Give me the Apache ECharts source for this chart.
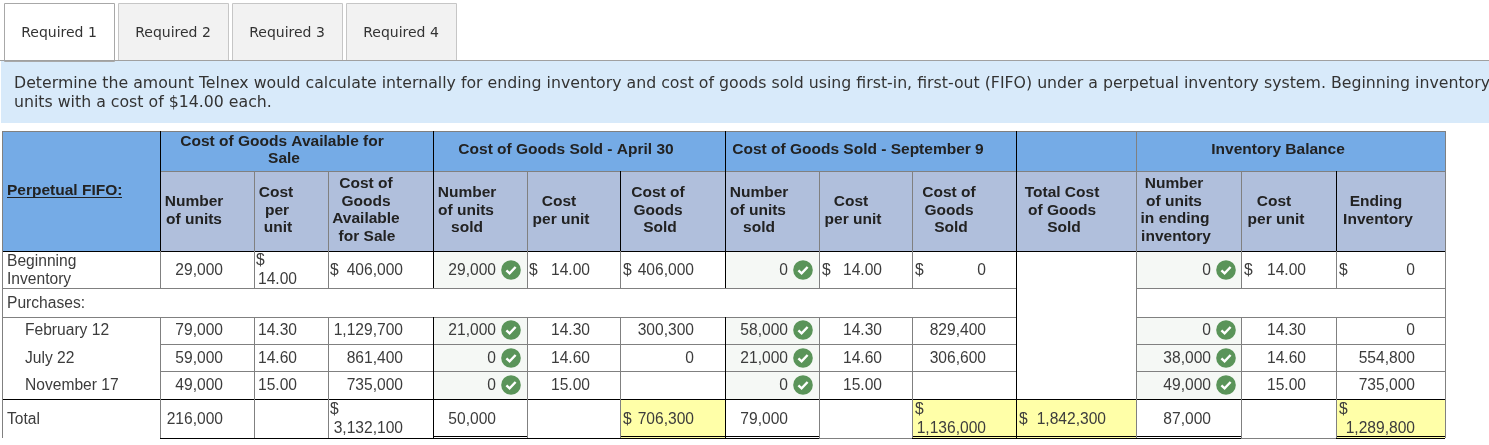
<!DOCTYPE html>
<html>
<head>
<meta charset="utf-8">
<script src="https://cdn.jsdelivr.net/npm/echarts@6/dist/echarts.min.js"></script>
<style>
html, body { margin: 0; padding: 0; background: #fff; }
#main { width: 1489px; height: 445px; }
</style>
</head>
<body>
<div id="main"></div>
<script>
// values
var tabNames = ['Required 1', 'Required 2', 'Required 3', 'Required 4'];
var introLines = [
    'Determine the amount Telnex would calculate internally for ending inventory and cost of goods sold using first-in, first-out (FIFO) under a perpetual inventory system. Beginning inventory',
    'units with a cost of $14.00 each.'
];
var rowLabels = ['Beginning', 'Inventory', 'Purchases:', 'February 12', 'July 22', 'November 17', 'Total'];

var unitsAvailable = [29000, 79000, 59000, 49000, 216000];
var costAvailablePerUnit = [14.00, 14.30, 14.60, 15.00, null];
var costAvailable = [406000, 1129700, 861400, 735000, 3132100];
var aprilUnits = [29000, 21000, 0, 0, 50000];
var aprilCostPerUnit = [14.00, 14.30, 14.60, 15.00, null];
var aprilCost = [406000, 300300, 0, null, 706300];
var septemberUnits = [0, 58000, 21000, 0, 79000];
var septemberCostPerUnit = [14.00, 14.30, 14.60, 15.00, null];
var septemberCost = [0, 829400, 306600, null, 1136000];
var totalCost = [null, null, null, null, 1842300];
var endingUnits = [0, 0, 38000, 49000, 87000];
var endingCostPerUnit = [14.00, 14.30, 14.60, 15.00, null];
var endingInventory = [0, 0, 554800, 735000, 1289800];

// table layout, in page pixels
var colX = [2, 160, 254, 328, 433, 527, 620, 725, 819, 912, 1016, 1136, 1241, 1336, 1445];
var rowY = [131, 171, 251, 288, 317, 344, 371, 399, 438];
var textY = [269, 329, 357, 384, 418];

var columns = [
    { values: unitsAvailable, right: 223 },
    { values: costAvailablePerUnit, right: 297, dollarX: 256, dec: 2, dollarRows: [0], wrap: [0] },
    { values: costAvailable, right: 403, dollarX: 330, dollarRows: [0, 4], wrap: [4] },
    { values: aprilUnits, right: 496, check: true },
    { values: aprilCostPerUnit, right: 590, dollarX: 529, dec: 2, dollarRows: [0] },
    { values: aprilCost, right: 694, dollarX: 623, dollarRows: [0, 4] },
    { values: septemberUnits, right: 788, check: true },
    { values: septemberCostPerUnit, right: 882, dollarX: 822, dec: 2, dollarRows: [0] },
    { values: septemberCost, right: 986, dollarX: 915, dollarRows: [0, 4], wrap: [4] },
    { values: totalCost, right: 1106, dollarX: 1019, dollarRows: [4] },
    { values: endingUnits, right: 1211, check: true },
    { values: endingCostPerUnit, right: 1306, dollarX: 1244, dec: 2, dollarRows: [0] },
    { values: endingInventory, right: 1415, dollarX: 1339, dollarRows: [0, 4], wrap: [4] }
];

var BLUE = '#75abe6', SUB = '#b0bfdc', YELLOW = '#ffffa8', ENTRY = '#f5f8f5';
var GRAY = '#808080', BLACK = '#000000';
var BODY_FONT = '15.6px "Liberation Sans"';
var HEAD_FONT = 'bold 15.5px "Liberation Sans"';
var TAB_FONT = '14px "DejaVu Sans"';
var INFO_FONT = '15.75px "DejaVu Sans"';

var rects = [], lines = [], texts = [], checks = [];

function addRect(x0, y0, x1, y1, fill, stroke) {
    rects.push({ value: [x0, y0, x1, y1], fill: fill, stroke: stroke });
}
function addLine(x0, y0, x1, y1, color) {
    lines.push({ value: [x0, y0, x1, y1], color: color });
}
function addText(str, x, y, align, font, color) {
    texts.push({ value: [x, y], str: str, align: align, font: font, color: color });
}
function fmt(v, dec) {
    return dec ? v.toFixed(dec) : v.toLocaleString('en-US');
}

// tabs + instructions panel
addRect(1, 61, 1489, 123, '#d8eafa');
addLine(0, 60, 1489, 60, '#a0a0a0');
tabNames.forEach(function (name, i) {
    var x = 4 + i * 114;
    addRect(x, 3, x + 110, i === 0 ? 61 : 60, i === 0 ? '#ffffff' : '#f2f2f2', i === 0 ? '#a8a8a8' : '#c6c6c6');
    addText(name, x + 55, 32, 'center', TAB_FONT, '#333333');
});
introLines.forEach(function (str, i) {
    addText(str, 14, 82.5 + i * 18.7, 'left', INFO_FONT, '#333333');
});

// table fills
addRect(colX[0], rowY[0], colX[14], rowY[1], BLUE);
addRect(colX[0], rowY[1], colX[1], rowY[2], BLUE);
addRect(colX[1], rowY[1], colX[14], rowY[2], SUB);
[4, 7, 11].forEach(function (col) {
    [2, 4, 5, 6].forEach(function (r) {
        addRect(colX[col], rowY[r], colX[col + 1], rowY[r + 1], ENTRY);
    });
});
[6, 9, 10, 13].forEach(function (c) {
    addRect(colX[c], rowY[7], colX[c + 1], rowY[8], YELLOW);
});

// header text
[
    ['Cost of Goods Available for', 282, 142], ['Sale', 284, 159],
    ['Cost of Goods Sold - April 30', 566, 150],
    ['Cost of Goods Sold - September 9', 858, 150],
    ['Inventory Balance', 1278, 150],
    ['Number', 194, 202], ['of units', 194, 220],
    ['Cost', 276, 193], ['per', 277, 211], ['unit', 278, 228],
    ['Cost of', 366, 184], ['Goods', 366, 202], ['Available', 366, 219], ['for Sale', 367, 237],
    ['Number', 467, 193], ['of units', 466, 211], ['sold', 467, 228],
    ['Cost', 559, 202], ['per unit', 561, 220],
    ['Cost of', 658, 193], ['Goods', 658, 211], ['Sold', 660, 228],
    ['Number', 759, 193], ['of units', 758, 211], ['sold', 759, 228],
    ['Cost', 851, 202], ['per unit', 853, 220],
    ['Cost of', 949, 193], ['Goods', 949, 211], ['Sold', 951, 228],
    ['Total Cost', 1062, 193], ['of Goods', 1062, 211], ['Sold', 1064, 228],
    ['Number', 1174, 184], ['of units', 1174, 202], ['in ending', 1175, 219], ['inventory', 1176, 237],
    ['Cost', 1274, 202], ['per unit', 1276, 220],
    ['Ending', 1376, 202], ['Inventory', 1378, 220]
].forEach(function (h) {
    addText(h[0], h[1], h[2] - 1.5, 'center', HEAD_FONT, '#222222');
});
addText('Perpetual FIFO:', 7, 189.5, 'left', HEAD_FONT, '#222222');
addLine(7, 197, 122, 197, '#222222');

// row labels
addText(rowLabels[0], 7, 260, 'left', BODY_FONT, '#3c3c3c');
addText(rowLabels[1], 7, 278, 'left', BODY_FONT, '#3c3c3c');
addText(rowLabels[2], 7, 302, 'left', BODY_FONT, '#3c3c3c');
addText(rowLabels[3], 25, textY[1], 'left', BODY_FONT, '#3c3c3c');
addText(rowLabels[4], 25, textY[2], 'left', BODY_FONT, '#3c3c3c');
addText(rowLabels[5], 25, textY[3], 'left', BODY_FONT, '#3c3c3c');
addText(rowLabels[6], 7, textY[4], 'left', BODY_FONT, '#3c3c3c');

// body values
columns.forEach(function (col) {
    col.values.forEach(function (v, r) {
        if (v === null) return;
        var wrapped = col.wrap && col.wrap.indexOf(r) >= 0;
        var y = textY[r];
        if (col.dollarRows && col.dollarRows.indexOf(r) >= 0) {
            addText('$', col.dollarX, wrapped ? y - 9.5 : y, 'left', BODY_FONT, '#3c3c3c');
        }
        addText(fmt(v, col.dec), col.right, wrapped ? y + 9 : y, 'right', BODY_FONT, '#3c3c3c');
        if (col.check && r < 4) checks.push({ value: [col.right + 15, y + 1] });
    });
});

// grid lines
addLine(colX[0], rowY[0], colX[14], rowY[0], GRAY);
addLine(colX[1], rowY[1], colX[14], rowY[1], GRAY);
addLine(colX[0], rowY[2], colX[14], rowY[2], BLACK);
addLine(colX[0], rowY[3], colX[10], rowY[3], GRAY);
addLine(colX[11], rowY[3], colX[14], rowY[3], GRAY);
addLine(colX[0], rowY[4], colX[10], rowY[4], GRAY);
addLine(colX[11], rowY[4], colX[14], rowY[4], GRAY);
[5, 6].forEach(function (r) {
    addLine(colX[1], rowY[r], colX[10], rowY[r], GRAY);
    addLine(colX[11], rowY[r], colX[14], rowY[r], GRAY);
});
addLine(colX[0], rowY[7], colX[14], rowY[7], BLACK);
[[1, 8, BLACK], [8, 9, GRAY], [9, 12, BLACK], [12, 13, GRAY], [13, 14, BLACK]].forEach(function (s) {
    addLine(colX[s[0]], rowY[8], colX[s[1]], rowY[8], s[2]);
});
[4, 6, 7, 9, 10, 11, 13].forEach(function (c) {
    addLine(colX[c], rowY[8] - 2, colX[c + 1], rowY[8] - 2, BLACK);
});
addLine(colX[0], rowY[0], colX[0], rowY[8], GRAY);
addLine(colX[14], rowY[0], colX[14], rowY[8], GRAY);
addLine(colX[1], rowY[0], colX[1], rowY[2], BLACK);
addLine(colX[4], rowY[0], colX[4], rowY[3], BLACK);
addLine(colX[4], rowY[4], colX[4], rowY[8], BLACK);
addLine(colX[7], rowY[0], colX[7], rowY[3], BLACK);
addLine(colX[7], rowY[4], colX[7], rowY[8], BLACK);
addLine(colX[10], rowY[0], colX[10], rowY[8], BLACK);
addLine(colX[11], rowY[0], colX[11], rowY[8], GRAY);
addLine(colX[6], rowY[1], colX[6], rowY[2], BLACK);
addLine(colX[13], rowY[1], colX[13], rowY[2], BLACK);
[2, 3, 5, 8, 9, 12].forEach(function (c) {
    addLine(colX[c], rowY[1], colX[c], rowY[2], GRAY);
});
[1, 2, 3, 5, 6, 8, 9, 12, 13].forEach(function (c) {
    addLine(colX[c], rowY[2], colX[c], rowY[3], GRAY);
    addLine(colX[c], rowY[4], colX[c], rowY[8], GRAY);
});

function renderRect(params, api) {
    var item = rects[params.dataIndex];
    var a = api.coord([api.value(0), api.value(1)]);
    var b = api.coord([api.value(2), api.value(3)]);
    var s = item.stroke;
    return {
        type: 'rect',
        shape: { x: a[0] + (s ? 0.5 : 0), y: a[1] + (s ? 0.5 : 0), width: b[0] - a[0], height: b[1] - a[1] },
        style: { fill: item.fill, stroke: s || null, lineWidth: 1 }
    };
}
function renderLine(params, api) {
    var a = api.coord([api.value(0), api.value(1)]);
    var b = api.coord([api.value(2), api.value(3)]);
    return {
        type: 'rect',
        shape: { x: a[0], y: a[1], width: Math.max(b[0] - a[0], 1), height: Math.max(b[1] - a[1], 1) },
        style: { fill: lines[params.dataIndex].color }
    };
}
function renderText(params, api) {
    var item = texts[params.dataIndex];
    var p = api.coord([api.value(0), api.value(1)]);
    return {
        type: 'text',
        x: p[0],
        y: p[1] + 1.5,
        style: { text: item.str, font: item.font, fill: item.color, align: item.align, verticalAlign: 'middle' }
    };
}
function renderCheck(params, api) {
    var p = api.coord([api.value(0), api.value(1)]);
    return {
        type: 'group',
        x: p[0],
        y: p[1],
        children: [
            { type: 'circle', shape: { cx: 0, cy: 0, r: 9.8 }, style: { fill: '#5a9459' } },
            {
                type: 'polyline',
                shape: { points: [[-4.6, 0.4], [-1.4, 3.4], [4.6, -3]] },
                style: { stroke: '#ffffff', lineWidth: 2.4, fill: null }
            }
        ]
    };
}
function layer(data, render) {
    return { type: 'custom', coordinateSystem: 'cartesian2d', data: data, renderItem: render, clip: false, silent: true, animation: false };
}

var myChart = echarts.init(document.getElementById('main'));
myChart.setOption({
    animation: false,
    backgroundColor: '#ffffff',
    grid: { left: 0, right: 0, top: 0, bottom: 0 },
    xAxis: { type: 'value', min: 0, max: 1489, show: false },
    yAxis: { type: 'value', min: 0, max: 445, inverse: true, show: false },
    series: [
        layer(rects, renderRect),
        layer(lines, renderLine),
        layer(checks, renderCheck),
        layer(texts, renderText)
    ]
});
</script>
</body>
</html>
